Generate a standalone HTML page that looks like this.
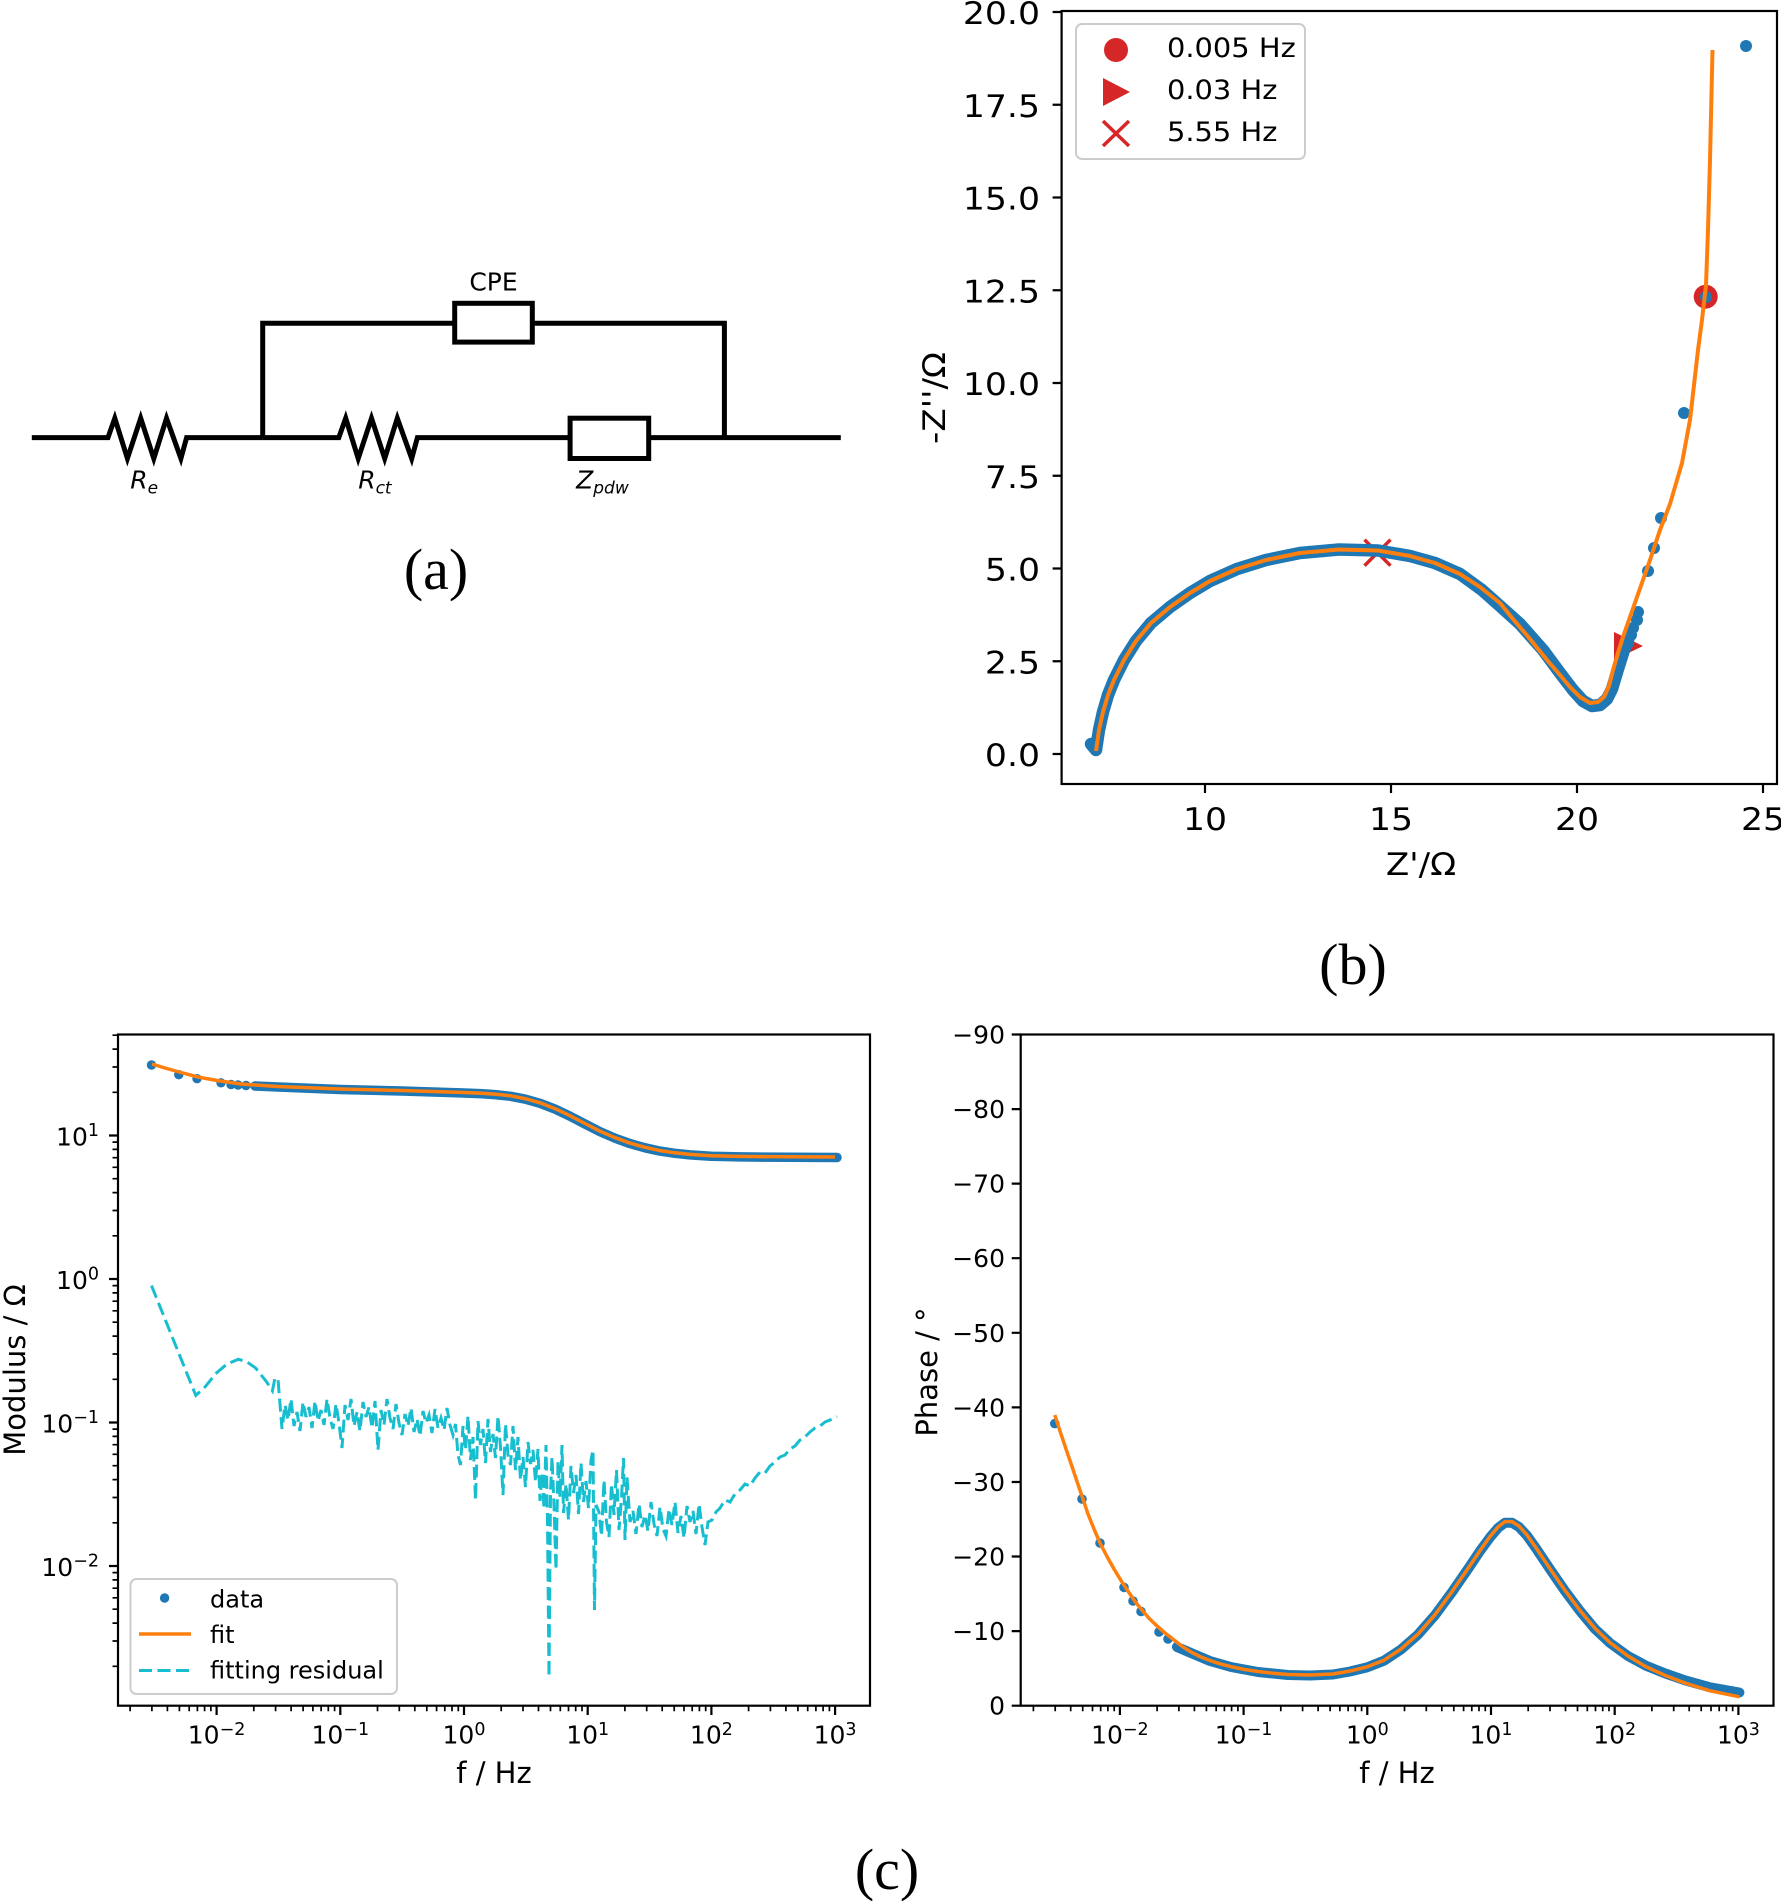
<!DOCTYPE html>
<html><head><meta charset="utf-8"><style>
html,body{margin:0;padding:0;background:#fff;}
svg{display:block;}
text{font-family:"DejaVu Sans","Liberation Sans",sans-serif;fill:#000;}
.serif{font-family:"Liberation Serif","DejaVu Serif",serif;}
</style></head><body>
<svg width="1781" height="1901" viewBox="0 0 1781 1901" xmlns="http://www.w3.org/2000/svg">
<rect width="1781" height="1901" fill="#fff"/>

<!-- ===== Panel (a): circuit ===== -->
<g fill="none" stroke="#000" stroke-width="5" stroke-linejoin="miter">
<path d="M31.8,437.6 L108,437.6 L114.8,418.2 L127.4,458.5 L140.7,418.2 L153.8,458.5 L166.5,418.2 L180.9,458.5 L186.6,437.6 L262.7,437.6"/>
<path d="M262.7,437.6 L338.8,437.6 L345.7,418.2 L358.2,458.5 L371.5,418.2 L384.7,458.5 L397.3,418.2 L411.7,458.5 L417.4,437.6 L570.1,437.6"/>
<rect x="570.1" y="418.2" width="78.6" height="40.3"/>
<path d="M648.7,437.6 L840.8,437.6"/>
<path d="M262.7,437.6 L262.7,323.2 L454.7,323.2"/>
<rect x="454.7" y="303.3" width="77.6" height="38.8"/>
<path d="M532.3,323.2 L724.4,323.2 L724.4,437.6"/>
</g>
<text x="493.5" y="290.4" font-size="25" text-anchor="middle">CPE</text>
<text x="130.3" y="488.3" font-size="25" font-style="italic">R<tspan font-size="17" dy="5">e</tspan></text>
<text x="358.2" y="488.3" font-size="25" font-style="italic">R<tspan font-size="17" dy="5">ct</tspan></text>
<text x="576.1" y="488.3" font-size="25" font-style="italic">Z<tspan font-size="17" dy="5">pdw</tspan></text>
<text class="serif" x="436" y="589" font-size="58" text-anchor="middle">(a)</text>

<!-- ===== Panel (b): Nyquist ===== -->
<g stroke="#000" stroke-width="2.2">
<path d="M1052.6,754H1061.6 M1052.6,661.25H1061.6 M1052.6,568.5H1061.6 M1052.6,475.75H1061.6 M1052.6,383H1061.6 M1052.6,290.25H1061.6 M1052.6,197.5H1061.6 M1052.6,104.75H1061.6 M1052.6,12H1061.6"/>
<path d="M1205,784V793 M1391,784V793 M1577,784V793 M1763,784V793"/>
</g>
<g font-size="31.5" text-anchor="end">
<text transform="translate(1040,766) scale(1.1,1)">0.0</text>
<text transform="translate(1040,673.25) scale(1.1,1)">2.5</text>
<text transform="translate(1040,580.5) scale(1.1,1)">5.0</text>
<text transform="translate(1040,487.75) scale(1.1,1)">7.5</text>
<text transform="translate(1040,395) scale(1.1,1)">10.0</text>
<text transform="translate(1040,302.25) scale(1.1,1)">12.5</text>
<text transform="translate(1040,209.5) scale(1.1,1)">15.0</text>
<text transform="translate(1040,116.75) scale(1.1,1)">17.5</text>
<text transform="translate(1040,24) scale(1.1,1)">20.0</text>
</g>
<g font-size="31.5" text-anchor="middle">
<text transform="translate(1205,830) scale(1.1,1)">10</text>
<text transform="translate(1391,830) scale(1.1,1)">15</text>
<text transform="translate(1577,830) scale(1.1,1)">20</text>
<text transform="translate(1763,830) scale(1.1,1)">25</text>
</g>
<text transform="translate(1421,875) scale(1.1,1)" font-size="31" text-anchor="middle">Z'/Ω</text>
<text transform="translate(945,398) rotate(-90) scale(1.1,1)" font-size="31" text-anchor="middle">-Z''/Ω</text>

<!-- red markers -->
<circle cx="1705.7" cy="296.7" r="12" fill="#d62728"/>
<polygon points="1614,632 1643,646 1614,660" fill="#d62728"/>
<path d="M1364.5,539.7 L1390.5,565.7 M1390.5,539.7 L1364.5,565.7" stroke="#d62728" stroke-width="3.5"/>
<!-- data band -->
<path d="M1091,744 L1096,750 L1099,730 L1103,712 L1108,695 L1114,680 L1124,660 L1136,641 L1151,623 L1170,607 L1190,593 L1210,581 L1237,569 L1266,560 L1300,553 L1339,549.5 L1378,550.5 L1410,556 L1435,563 L1460,574 L1482,590 L1500,606 L1520,624 L1543,650 L1560,673 L1573,690 L1583,701 L1592,706 L1600,705 L1607,699 L1612,689 L1618,669 L1624,650 L1628,641" fill="none" stroke="#1f77b4" stroke-width="12.5" stroke-linejoin="round" stroke-linecap="round"/>
<g fill="#1f77b4">
<circle cx="1628" cy="643" r="6"/><circle cx="1631" cy="635" r="6"/><circle cx="1633" cy="628" r="6"/>
<circle cx="1637" cy="620" r="6"/><circle cx="1638" cy="612" r="6"/><circle cx="1648" cy="571" r="6"/>
<circle cx="1654" cy="548" r="6"/><circle cx="1661" cy="518" r="6"/><circle cx="1684" cy="413" r="6"/>
<circle cx="1706" cy="297" r="6"/><circle cx="1746" cy="46" r="6"/>
</g>
<!-- fit -->
<path d="M1096,751 L1099,730 L1103,712 L1108,695 L1114,680 L1124,660 L1136,641 L1151,623 L1170,607 L1190,593 L1210,581 L1237,569 L1266,560 L1300,553 L1339,549.5 L1378,550.5 L1410,556 L1435,563 L1460,574 L1480,587 L1500,603 L1513,619 L1530,639 L1547,660 L1560,675 L1570,687 L1580,697 L1590,703 L1598,702 L1604,697 L1609,686 L1613,670 L1618,653 L1623,637 L1637,597 L1650,560 L1660,530 L1670,504 L1682,463 L1690,420 L1694,385 L1698,350 L1702,320 L1706,285 L1708,230 L1710,160 L1712.5,50" fill="none" stroke="#ff7f0e" stroke-width="4" stroke-linejoin="round"/>
<rect x="1061.6" y="11" width="715.4" height="773" fill="none" stroke="#000" stroke-width="2.2"/>
<!-- legend b -->
<rect x="1076" y="24" width="229" height="135" rx="6" fill="#fff" fill-opacity="0.8" stroke="#cccccc" stroke-width="2"/>
<circle cx="1116" cy="50" r="12" fill="#d62728"/>
<polygon points="1103,78 1130,92 1103,106" fill="#d62728"/>
<path d="M1103,121 L1129,146 M1129,121 L1103,146" stroke="#d62728" stroke-width="3.5"/>
<g font-size="27">
<text transform="translate(1167,57) scale(1.07,1)">0.005 Hz</text>
<text transform="translate(1167,99) scale(1.07,1)">0.03 Hz</text>
<text transform="translate(1167,141) scale(1.07,1)">5.55 Hz</text>
</g>
<text class="serif" x="1353" y="984" font-size="58" text-anchor="middle">(b)</text>

<!-- ===== Panel (c) left: modulus ===== -->
<g stroke="#000">
<path stroke-width="2.2" d="M216.6,1705.7V1715 M340.3,1705.7V1715 M464,1705.7V1715 M587.7,1705.7V1715 M711.4,1705.7V1715 M835.1,1705.7V1715"/>
<path stroke-width="1.7" d="M130.1,1705.7v5.5M151.9,1705.7v5.5M167.4,1705.7v5.5M179.4,1705.7v5.5M189.2,1705.7v5.5M197.4,1705.7v5.5M204.6,1705.7v5.5M210.9,1705.7v5.5
M253.8,1705.7v5.5M275.6,1705.7v5.5M291.1,1705.7v5.5M303.1,1705.7v5.5M312.9,1705.7v5.5M321.1,1705.7v5.5M328.3,1705.7v5.5M334.6,1705.7v5.5
M377.5,1705.7v5.5M399.3,1705.7v5.5M414.8,1705.7v5.5M426.8,1705.7v5.5M436.6,1705.7v5.5M444.8,1705.7v5.5M452,1705.7v5.5M458.3,1705.7v5.5
M501.2,1705.7v5.5M523,1705.7v5.5M538.5,1705.7v5.5M550.5,1705.7v5.5M560.3,1705.7v5.5M568.5,1705.7v5.5M575.7,1705.7v5.5M582,1705.7v5.5
M624.9,1705.7v5.5M646.7,1705.7v5.5M662.2,1705.7v5.5M674.2,1705.7v5.5M684,1705.7v5.5M692.2,1705.7v5.5M699.4,1705.7v5.5M705.7,1705.7v5.5
M748.6,1705.7v5.5M770.4,1705.7v5.5M785.9,1705.7v5.5M797.9,1705.7v5.5M807.7,1705.7v5.5M815.9,1705.7v5.5M823.1,1705.7v5.5M829.4,1705.7v5.5"/>
<path stroke-width="2.2" d="M109,1566H118 M109,1422.5H118 M109,1279H118 M109,1135.5H118"/>
<path stroke-width="1.7" d="M112.5,1666.3H118M112.5,1641H118M112.5,1623.1H118M112.5,1609.2H118M112.5,1597.8H118M112.5,1588.2H118M112.5,1579.9H118M112.5,1572.6H118
M112.5,1522.8H118M112.5,1497.5H118M112.5,1479.6H118M112.5,1465.7H118M112.5,1454.3H118M112.5,1444.7H118M112.5,1436.4H118M112.5,1429.1H118
M112.5,1379.3H118M112.5,1354H118M112.5,1336.1H118M112.5,1322.2H118M112.5,1310.8H118M112.5,1301.2H118M112.5,1292.9H118M112.5,1285.6H118
M112.5,1235.8H118M112.5,1210.5H118M112.5,1192.6H118M112.5,1178.7H118M112.5,1167.3H118M112.5,1157.7H118M112.5,1149.4H118M112.5,1142.1H118
M112.5,1092.3H118M112.5,1067H118M112.5,1049.1H118M112.5,1035.2H118"/>
</g>
<g font-size="25" text-anchor="end">
<text x="99" y="1145.5">10<tspan dy="-9.5" font-size="17.5">1</tspan></text>
<text x="99" y="1289">10<tspan dy="-9.5" font-size="17.5">0</tspan></text>
<text x="99" y="1432.5">10<tspan dy="-9.5" font-size="17.5">−1</tspan></text>
<text x="99" y="1576">10<tspan dy="-9.5" font-size="17.5">−2</tspan></text>
</g>
<g font-size="25" text-anchor="middle">
<text x="216.6" y="1743.5">10<tspan dy="-8.5" font-size="17.5">−2</tspan></text>
<text x="340.3" y="1743.5">10<tspan dy="-8.5" font-size="17.5">−1</tspan></text>
<text x="464" y="1743.5">10<tspan dy="-8.5" font-size="17.5">0</tspan></text>
<text x="587.7" y="1743.5">10<tspan dy="-8.5" font-size="17.5">1</tspan></text>
<text x="711.4" y="1743.5">10<tspan dy="-8.5" font-size="17.5">2</tspan></text>
<text x="835.1" y="1743.5">10<tspan dy="-8.5" font-size="17.5">3</tspan></text>
</g>
<text x="494" y="1783" font-size="29" text-anchor="middle">f / Hz</text>
<text transform="translate(25,1370) rotate(-90)" font-size="29" text-anchor="middle">Modulus / Ω</text>

<!-- modulus data -->
<path d="M255,1086 L278,1087 L340,1089.5 L402,1091 L464,1093 L480,1093.6 L495,1094.6 L510,1096.2 L525,1099.1 L540,1103.3 L555,1109.1 L570,1116.2 L585,1124 L600,1131.7 L615,1138.2 L630,1143.6 L645,1147.8 L660,1151.1 L675,1153.3 L690,1154.9 L711,1156.2 L740,1156.9 L790,1157.3 L837,1157.5" fill="none" stroke="#1f77b4" stroke-width="9.5" stroke-linejoin="round" stroke-linecap="round"/>
<g fill="#1f77b4">
<circle cx="151.5" cy="1065" r="4.7"/><circle cx="178.8" cy="1074.7" r="4.7"/><circle cx="197" cy="1078.7" r="4.7"/>
<circle cx="221" cy="1082.8" r="4.7"/><circle cx="231" cy="1084.5" r="4.7"/><circle cx="238" cy="1085" r="4.7"/><circle cx="246" cy="1085.5" r="4.7"/>
</g>
<path d="M152,1064 L165,1068 L179,1072 L198,1077 L217,1080.5 L241,1084 L278,1086.5 L340,1089 L402,1090.5 L464,1092.5 L480,1093.1 L495,1094.1 L510,1095.7 L525,1098.6 L540,1102.8 L555,1108.6 L570,1115.7 L585,1123.5 L600,1131.2 L615,1137.7 L630,1143.1 L645,1147.3 L660,1150.6 L675,1152.8 L690,1154.4 L711,1155.7 L740,1156.4 L790,1156.8 L835,1157" fill="none" stroke="#ff7f0e" stroke-width="3.5" stroke-linejoin="round"/>
<!-- residual -->
<path d="M151.5,1285.6 L195.8,1395.4 L205,1387 L215.7,1373.6 L227,1364 L238.4,1359.2 L247,1362 L255.4,1367.8 L266.7,1382 L272.4,1390.8 L275,1378 L278,1379 L282,1429 L285,1405 L288,1420 L291,1399 L294,1426 L297,1412 L300,1431 L303,1402 L306,1417 L309,1407 L312,1428 L315,1401 L318,1421 L321,1410 L324,1425 L327,1399 L330,1418 L333,1429 L336,1404 L339,1423 L342,1448 L345,1405 L348,1420 L351,1399 L354,1426 L357,1412 L360,1431 L363,1402 L366,1417 L369,1407 L372,1428 L375,1401 L378,1450 L381,1410 L384,1425 L387,1399 L390,1418 L393,1429 L396,1404 L399,1423 L402,1435 L405,1414 L408,1426 L411,1408 L414,1432 L417,1419 L420,1436 L423,1411 L426,1423 L429,1415 L432,1433 L435,1409 L438,1428 L441,1418 L444,1430 L447,1408 L450,1425 L453,1435 L455.5,1424 L458,1455 L460.5,1465 L463,1426 L465.5,1450 L468,1416 L470.5,1460 L473,1437 L475.5,1500 L478,1421 L480.5,1445 L483,1429 L485.5,1463 L488,1419 L490.5,1452 L493,1434 L495.5,1458 L498,1416 L500.5,1447 L503,1495 L505.5,1424 L508,1455 L510.5,1465 L513,1426 L515.5,1470 L518,1437 L520.5,1480 L523,1457 L525.5,1487 L528,1442 L530.5,1464 L533,1450 L535.5,1482 L538,1449 L540,1501 L542,1473 L544,1509 L546,1445 L547.5,1521 L549,1677 L550.5,1493 L552,1457 L554,1505 L556,1570 L558,1461 L560,1497 L562,1445 L563.5,1513 L566,1484 L568.5,1520 L571,1466 L573.5,1493 L576,1475 L578.5,1514 L581,1463 L583.5,1502 L586,1481 L588.5,1508 L591,1460 L593,1450 L594.5,1610 L596,1505 L599,1512 L601.5,1536 L604,1480 L606.5,1522 L609,1537 L611.5,1484 L614,1515 L616.5,1470 L619,1530 L621.5,1498 L623.5,1458 L625,1540 L627,1477 L630,1522 L633,1511 L636,1534 L639,1504 L642,1527 L645,1515 L648,1531 L651,1502 L654,1524 L657,1536 L660,1507 L663,1529 L666,1536 L669,1509 L672,1525 L675,1502 L678,1533 L681,1516 L684,1538 L687,1506 L690,1522 L693,1511 L696,1534 L699,1504 L702,1527 L705,1545 L708,1522 L712,1520 L716,1512 L720,1508 L725,1500 L730,1502 L735,1494 L740,1490 L745,1484 L750,1486 L755,1478 L760,1472 L765,1473 L770,1466 L775,1462 L780,1457 L785,1455 L790,1449 L795,1446 L800,1440 L805,1437 L810,1432 L815,1428 L820,1426 L825,1422 L830,1420 L837,1416.7" fill="none" stroke="#17becf" stroke-width="3" stroke-dasharray="13 5.5"/>
<rect x="118" y="1034.5" width="752" height="671.2" fill="none" stroke="#000" stroke-width="2.2"/>
<!-- legend c -->
<rect x="130.5" y="1579" width="266.5" height="115" rx="6" fill="#fff" fill-opacity="0.8" stroke="#cccccc" stroke-width="2"/>
<circle cx="164.6" cy="1598" r="4.7" fill="#1f77b4"/>
<path d="M139,1634 H191" stroke="#ff7f0e" stroke-width="3.5"/>
<path d="M139,1670.5 H191" stroke="#17becf" stroke-width="3" stroke-dasharray="13 5.5"/>
<g font-size="24">
<text x="210" y="1607.5">data</text>
<text x="210" y="1643">fit</text>
<text x="210" y="1678.5">fitting residual</text>
</g>

<!-- ===== Panel (c) right: phase ===== -->
<g stroke="#000">
<path stroke-width="2.2" d="M1119.9,1705.7V1715 M1243.6,1705.7V1715 M1367.3,1705.7V1715 M1491,1705.7V1715 M1614.7,1705.7V1715 M1738.4,1705.7V1715"/>
<path stroke-width="1.7" d="M1033.4,1705.7v5.5M1055.2,1705.7v5.5M1070.7,1705.7v5.5M1082.7,1705.7v5.5M1092.5,1705.7v5.5M1100.7,1705.7v5.5M1107.9,1705.7v5.5M1114.2,1705.7v5.5
M1157.1,1705.7v5.5M1178.9,1705.7v5.5M1194.4,1705.7v5.5M1206.4,1705.7v5.5M1216.2,1705.7v5.5M1224.4,1705.7v5.5M1231.6,1705.7v5.5M1237.9,1705.7v5.5
M1280.8,1705.7v5.5M1302.6,1705.7v5.5M1318.1,1705.7v5.5M1330.1,1705.7v5.5M1339.9,1705.7v5.5M1348.1,1705.7v5.5M1355.3,1705.7v5.5M1361.6,1705.7v5.5
M1404.5,1705.7v5.5M1426.3,1705.7v5.5M1441.8,1705.7v5.5M1453.8,1705.7v5.5M1463.6,1705.7v5.5M1471.8,1705.7v5.5M1479,1705.7v5.5M1485.3,1705.7v5.5
M1528.2,1705.7v5.5M1550,1705.7v5.5M1565.5,1705.7v5.5M1577.5,1705.7v5.5M1587.3,1705.7v5.5M1595.5,1705.7v5.5M1602.7,1705.7v5.5M1609,1705.7v5.5
M1651.9,1705.7v5.5M1673.7,1705.7v5.5M1689.2,1705.7v5.5M1701.2,1705.7v5.5M1711,1705.7v5.5M1719.2,1705.7v5.5M1726.4,1705.7v5.5M1732.7,1705.7v5.5"/>
<path stroke-width="2.2" d="M1011.7,1034.5H1020.7 M1011.7,1109.1H1020.7 M1011.7,1183.6H1020.7 M1011.7,1258.2H1020.7 M1011.7,1332.8H1020.7 M1011.7,1407.4H1020.7 M1011.7,1482H1020.7 M1011.7,1556.5H1020.7 M1011.7,1631.1H1020.7 M1011.7,1705.7H1020.7"/>
</g>
<g font-size="25" text-anchor="end">
<text x="1005" y="1043.5">−90</text>
<text x="1005" y="1118.1">−80</text>
<text x="1005" y="1192.6">−70</text>
<text x="1005" y="1267.2">−60</text>
<text x="1005" y="1341.8">−50</text>
<text x="1005" y="1416.4">−40</text>
<text x="1005" y="1491">−30</text>
<text x="1005" y="1565.5">−20</text>
<text x="1005" y="1640.1">−10</text>
<text x="1005" y="1714.7">0</text>
</g>
<g font-size="25" text-anchor="middle">
<text x="1119.9" y="1743.5">10<tspan dy="-8.5" font-size="17.5">−2</tspan></text>
<text x="1243.6" y="1743.5">10<tspan dy="-8.5" font-size="17.5">−1</tspan></text>
<text x="1367.3" y="1743.5">10<tspan dy="-8.5" font-size="17.5">0</tspan></text>
<text x="1491" y="1743.5">10<tspan dy="-8.5" font-size="17.5">1</tspan></text>
<text x="1614.7" y="1743.5">10<tspan dy="-8.5" font-size="17.5">2</tspan></text>
<text x="1738.4" y="1743.5">10<tspan dy="-8.5" font-size="17.5">3</tspan></text>
</g>
<text x="1397" y="1783" font-size="29" text-anchor="middle">f / Hz</text>
<text transform="translate(937,1372) rotate(-90)" font-size="29" text-anchor="middle">Phase / °</text>

<path d="M1177,1647 L1191,1653 L1210,1661 L1231,1667 L1258,1672 L1288,1675 L1310,1675.5 L1333,1674.5 L1350,1671.5 L1367,1667.4 L1384,1660.7 L1401,1649.5 L1418,1634.6 L1435,1615.2 L1452,1592.1 L1469,1567.5 L1480,1551 L1490,1537.4 L1498,1528 L1505,1522.7 L1512,1522.7 L1519,1527 L1527,1535.6 L1537,1549.8 L1550,1569.2 L1565,1591 L1580,1611 L1595,1629 L1610,1643 L1628,1656 L1646,1665.7 L1665,1673.4 L1685,1680.3 L1710,1687.3 L1739.4,1692.5" fill="none" stroke="#1f77b4" stroke-width="10" stroke-linejoin="round" stroke-linecap="round"/>
<g fill="#1f77b4">
<circle cx="1054.8" cy="1423.6" r="4.8"/><circle cx="1082" cy="1499" r="4.8"/><circle cx="1100" cy="1543" r="4.8"/>
<circle cx="1124" cy="1587.4" r="4.8"/><circle cx="1133" cy="1601" r="4.8"/><circle cx="1141" cy="1611.5" r="4.8"/>
<circle cx="1159" cy="1632" r="4.8"/><circle cx="1168" cy="1639" r="4.8"/><circle cx="1177" cy="1646.6" r="4.8"/>
</g>
<path d="M1054.8,1415 L1060,1431 L1066,1449 L1072,1466.5 L1077.5,1483 L1083,1499 L1088,1514 L1094,1529 L1100,1543 L1107,1556.5 L1114,1569 L1121,1580.5 L1128.6,1592 L1135,1601.5 L1142,1610 L1149,1618.3 L1157,1626 L1165,1633 L1174,1640 L1182,1646.3 L1191,1652 L1200,1656.6 L1210,1660.5 L1220,1663.8 L1231,1666.7 L1244,1669.4 L1258,1671.5 L1273,1673.2 L1288,1674.5 L1310,1675 L1333,1674 L1350,1671 L1367,1666.9 L1384,1660.2 L1401,1649 L1418,1634.1 L1435,1614.7 L1452,1591.6 L1469,1567 L1480,1550.6 L1490,1536.5 L1498,1527 L1505,1521.6 L1512,1521.6 L1519,1526 L1527,1535 L1537,1549.3 L1550,1568.7 L1565,1590.4 L1580,1610.5 L1595,1628.4 L1610,1642.6 L1628,1656 L1646,1666.7 L1665,1675.4 L1685,1683 L1710,1690.8 L1739.4,1696.8" fill="none" stroke="#ff7f0e" stroke-width="3.5" stroke-linejoin="round"/>
<rect x="1020.7" y="1034.5" width="752.8" height="671.2" fill="none" stroke="#000" stroke-width="2.2"/>

<text class="serif" x="887" y="1889" font-size="58" text-anchor="middle">(c)</text>
</svg>
</body></html>
